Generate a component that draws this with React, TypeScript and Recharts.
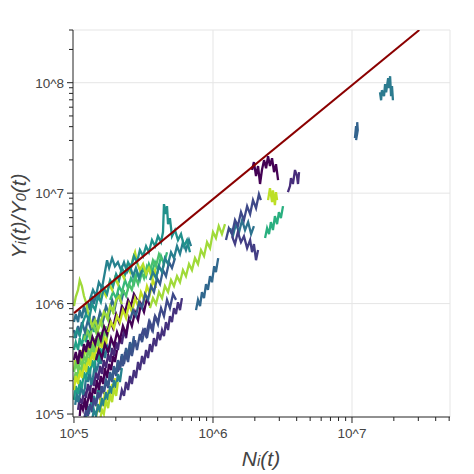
import { ComposedChart, Line, ReferenceLine, XAxis, YAxis } from "recharts";

// all walk values are in units of 1e5
const UNIT = 1e5;

const walkA = [[1.0, 9.49], [1.03, 11.5], [1.07, 13.3], [1.1, 16.3], [1.14, 14.4], [1.18, 11.7], [1.22, 10.3], [1.26, 8.38], [1.3, 7.39], [1.35, 6.26], [1.42, 7.09], [1.49, 5.76], [1.56, 6.8], [1.64, 8.38], [1.73, 7.39], [1.82, 9.49], [1.91, 8.38], [2.01, 10.8], [2.11, 11.7], [2.21, 9.9]];
const walkB = [[1.0, 4.87], [1.05, 5.76], [1.1, 5.08], [1.16, 6.8], [1.22, 8.04], [1.28, 7.09], [1.35, 9.9], [1.42, 8.73], [1.49, 11.7], [1.56, 10.3], [1.64, 13.8], [1.73, 12.2], [1.82, 16.3], [1.91, 14.4], [2.01, 18.5], [2.11, 16.3], [2.21, 21.0], [2.33, 18.5], [2.45, 23.7], [2.57, 21.0], [2.7, 26.9], [2.84, 23.7], [2.98, 30.5], [3.14, 26.9], [3.3, 33.1], [3.46, 29.2], [3.64, 37.6], [3.83, 33.1], [4.02, 40.8], [4.23, 36.0], [4.37, 44.4], [4.44, 79.5], [4.59, 64.6], [4.67, 76.3], [4.75, 52.4], [4.9, 59.4], [5.07, 40.8], [5.33, 46.3], [5.6, 37.6], [5.89, 42.6], [6.19, 33.1], [6.5, 37.6], [6.83, 29.2]];
const walkC = [[1.3, 10.8], [1.37, 13.3], [1.44, 11.7], [1.51, 15.6], [1.59, 13.8], [1.67, 19.3], [1.73, 24.7], [1.79, 21.0], [1.88, 25.8], [1.97, 21.8], [2.07, 23.7], [2.18, 20.1], [2.29, 23.7], [2.41, 19.3], [2.53, 21.8], [2.66, 17.7], [2.79, 21.0], [2.94, 17.0], [3.09, 20.1]];
const walkD = [[1.54, 10.8], [1.62, 13.3], [1.7, 11.7], [1.79, 15.0], [1.88, 13.3], [1.97, 17.0], [2.07, 15.0], [2.18, 19.3], [2.29, 17.0], [2.41, 21.8], [2.53, 19.3], [2.66, 25.8], [2.75, 29.2], [2.84, 23.7], [2.98, 20.1], [3.14, 22.8], [3.3, 18.5], [3.46, 21.0], [3.64, 17.0], [3.83, 20.1], [4.02, 15.6]];
const walkE = [[1.82, 10.8], [1.91, 12.7], [2.01, 11.2], [2.11, 14.4], [2.21, 12.7], [2.33, 16.3], [2.45, 13.8], [2.57, 17.0], [2.7, 15.0], [2.84, 19.3], [2.98, 16.3], [3.14, 21.0], [3.3, 17.7], [3.46, 22.8], [3.64, 19.3], [3.83, 23.7], [4.02, 20.1], [4.23, 26.9], [4.44, 22.8], [4.67, 29.2]];
const walkF = [[1.0, 3.08], [1.03, 3.64], [1.07, 2.84], [1.1, 3.8], [1.14, 3.21], [1.18, 4.3], [1.22, 3.64], [1.26, 4.67], [1.3, 3.96], [1.35, 5.08], [1.42, 4.3], [1.49, 5.52], [1.56, 4.67], [1.64, 6.26], [1.73, 5.3], [1.82, 7.09], [1.91, 6.0], [2.01, 8.04], [2.11, 6.8], [2.21, 9.49], [2.33, 8.38], [2.45, 10.8], [2.57, 9.49], [2.7, 12.2], [2.84, 10.8]];
const walkG = [[1.0, 5.76], [1.03, 4.87], [1.07, 6.26], [1.1, 5.3], [1.14, 6.8], [1.2, 5.52], [1.26, 7.09], [1.33, 5.76], [1.39, 7.71], [1.46, 6.26], [1.54, 8.38], [1.62, 7.09], [1.7, 9.49], [1.79, 8.04], [1.88, 10.8], [1.97, 9.11], [2.07, 12.2], [2.18, 10.3], [2.29, 13.3]];
const walkH = [[1.07, 1.09], [1.1, 1.4], [1.14, 1.23], [1.18, 1.65], [1.22, 1.4], [1.26, 1.87], [1.3, 1.58], [1.35, 2.12], [1.39, 1.79], [1.44, 2.4], [1.49, 2.03], [1.54, 2.72], [1.59, 2.3], [1.64, 3.08], [1.7, 2.61], [1.76, 3.49], [1.82, 2.96], [1.88, 3.96], [1.94, 3.35], [2.01, 4.48], [2.07, 3.8], [2.14, 5.08], [2.21, 4.3], [2.29, 5.76], [2.37, 4.87], [2.45, 6.53]];
const walkI = [[1.0, 1.65], [1.03, 2.21], [1.07, 1.87], [1.1, 2.5], [1.14, 2.12], [1.18, 2.84], [1.22, 2.4], [1.26, 3.21], [1.3, 2.72], [1.35, 3.64], [1.39, 3.08], [1.44, 4.12], [1.49, 3.49], [1.54, 4.67], [1.59, 3.96], [1.64, 5.08], [1.7, 4.3], [1.76, 5.76]];
const walkJ = [[1.0, 2.4], [1.03, 2.84], [1.07, 2.5], [1.1, 3.08], [1.14, 2.72], [1.18, 3.35], [1.22, 2.96], [1.26, 3.8], [1.3, 3.35], [1.35, 4.3], [1.39, 3.64], [1.44, 4.67], [1.49, 4.12], [1.54, 5.3], [1.59, 4.48], [1.64, 6.0], [1.73, 5.08], [1.82, 6.8]];
const walkK = [[1.0, 3.8], [1.03, 4.48], [1.07, 3.8], [1.1, 4.87], [1.14, 4.12], [1.18, 5.3], [1.22, 4.48], [1.26, 5.76], [1.3, 5.08], [1.35, 6.53], [1.39, 5.52], [1.44, 7.09]];
const walkL = [[1.18, 0.88], [1.22, 1.09], [1.26, 0.96], [1.3, 1.23], [1.35, 1.04], [1.39, 1.4], [1.44, 1.18], [1.49, 1.58], [1.54, 1.34], [1.59, 1.79], [1.64, 1.52], [1.7, 2.03], [1.76, 1.72], [1.82, 2.3], [1.88, 1.95], [1.94, 2.61], [2.01, 2.21], [2.07, 2.96], [2.14, 2.5], [2.21, 3.35], [2.29, 2.84], [2.37, 3.8], [2.45, 3.21], [2.53, 4.3], [2.61, 3.64], [2.7, 4.87]];
const walkM = [[1.35, 0.88], [1.39, 1.09], [1.44, 0.96], [1.49, 1.23], [1.54, 1.04], [1.59, 1.4], [1.64, 1.18], [1.7, 1.58], [1.76, 1.34], [1.82, 1.79], [1.88, 1.52], [1.94, 2.03], [2.01, 1.72], [2.07, 2.3], [2.14, 1.95], [2.21, 2.61]];
const walkN = [[1.54, 0.88], [1.59, 1.09], [1.64, 1.0], [1.7, 1.34], [1.76, 1.13], [1.82, 1.52], [1.88, 1.28], [1.94, 1.72], [2.01, 1.46], [2.07, 1.95]];
const walkO = [[2.14, 1.34], [2.21, 1.65], [2.29, 1.46], [2.37, 1.95], [2.45, 1.65], [2.53, 2.21], [2.61, 1.87], [2.7, 2.5], [2.79, 2.12], [2.89, 2.96], [2.98, 2.5], [3.09, 3.35], [3.19, 2.84], [3.3, 3.8], [3.41, 3.21], [3.52, 4.3], [3.64, 3.64], [3.76, 4.87], [3.89, 4.12], [4.02, 5.52], [4.16, 4.67], [4.3, 5.76], [4.44, 5.08], [4.59, 6.8], [4.75, 5.76], [4.9, 7.71], [5.07, 6.8], [5.24, 9.11], [5.42, 8.04], [5.6, 10.3], [5.79, 8.73], [5.98, 11.2]];
const walkQ = [[2.53, 7.09], [2.66, 8.73], [2.79, 7.71], [2.94, 10.3], [3.09, 9.11], [3.24, 12.2], [3.41, 10.8], [3.58, 14.4], [3.76, 12.7], [3.96, 17.0], [4.16, 15.0], [4.37, 20.1], [4.59, 17.7], [4.83, 23.7], [5.07, 21.0], [5.33, 25.8]];
const walkR = [[3.52, 16.3], [3.7, 19.3], [3.89, 17.0], [4.09, 21.8], [4.3, 19.3], [4.51, 25.8], [4.75, 22.8], [4.99, 29.2], [5.24, 25.8], [5.51, 33.1], [5.79, 28.1], [6.08, 36.0], [6.39, 30.5], [6.72, 37.6], [6.95, 33.1]];
const walkS = [[3.52, 9.11], [3.7, 11.2], [3.89, 9.9], [4.09, 12.7], [4.3, 11.2], [4.51, 14.4], [4.75, 12.7], [4.99, 16.3], [5.24, 14.4], [5.51, 17.7], [5.79, 15.6], [6.08, 20.1], [6.39, 17.7], [6.72, 22.8], [7.06, 20.1], [7.42, 25.8], [7.8, 22.8], [8.2, 30.5], [8.62, 26.9], [9.06, 36.0], [9.52, 31.8], [10.0, 44.4], [10.5, 39.2], [11.0, 50.3], [11.6, 42.6], [12.2, 52.4]];
const walkT = [[7.55, 8.73], [7.8, 10.8], [8.07, 9.49], [8.33, 12.7], [8.62, 11.2], [8.91, 15.0], [9.2, 13.3], [9.52, 17.7], [9.84, 15.6], [10.2, 21.8], [10.5, 19.3], [10.9, 25.8]];
const walkU1 = [[12.4, 37.6], [13.0, 48.2], [13.7, 42.6], [14.4, 57.0], [15.1, 50.3], [15.9, 67.3], [16.7, 57.0], [17.6, 76.3], [18.5, 64.6], [19.4, 86.4], [20.4, 73.2], [21.4, 97.9], [22.1, 86.4]];
const walkU2 = [[13.7, 40.8], [14.4, 34.6], [15.1, 44.4], [15.9, 36.0], [16.7, 40.8], [17.6, 31.8], [18.5, 37.6], [19.1, 29.2], [19.7, 34.6], [20.4, 24.7], [21.1, 30.5]];
const walkV = [[13.3, 48.2], [13.9, 40.8], [14.6, 52.4], [15.4, 44.4], [16.2, 57.0], [17.0, 46.3], [17.9, 54.7], [18.8, 42.6], [19.7, 50.3]];
const walkW = [[19.1, 162], [19.7, 191], [20.4, 143], [21.1, 176], [21.8, 121], [22.5, 162], [23.3, 199], [24.1, 168], [24.9, 216], [25.7, 176], [26.6, 207], [27.5, 155], [28.4, 183], [29.4, 131]];
const walkX = [[34.6, 102], [35.8, 116], [36.4, 137], [37.6, 121], [38.9, 162], [40.2, 143], [40.9, 121], [41.6, 155]];
const walkY = [[24.9, 86.4], [25.7, 111], [26.6, 82.9], [27.0, 106], [27.9, 77.9], [28.4, 102], [28.9, 86.4]];
const walkZ = [[23.7, 39.2], [24.5, 48.2], [25.3, 42.6], [26.1, 54.7], [27.0, 46.3], [27.9, 61.9], [28.9, 52.4], [29.8, 67.3], [30.8, 59.4], [31.9, 76.3]];
const walkP1 = [[105, 315], [107, 404], [109, 342], [109, 439], [110, 372], [107, 302]];
const walkP2 = [[159, 820], [162, 694], [164, 855], [170, 755], [173, 969], [176, 820], [182, 1099], [185, 892], [188, 1145], [191, 755], [194, 930], [197, 694]];
const walkAA = [[1.0, 1.34], [1.03, 1.79], [1.07, 1.52], [1.1, 2.03], [1.14, 1.72], [1.18, 2.4], [1.22, 2.03], [1.26, 2.72], [1.3, 2.3], [1.35, 3.08], [1.39, 2.61], [1.44, 3.49], [1.49, 2.96], [1.54, 3.96], [1.59, 3.35], [1.64, 4.48]];
const walkAB = [[1.44, 3.08], [1.51, 3.8], [1.59, 3.21], [1.67, 4.3], [1.76, 3.64], [1.85, 4.87], [1.94, 4.12], [2.04, 5.52], [2.14, 4.67], [2.25, 6.26], [2.37, 5.3], [2.49, 7.39], [2.61, 6.26], [2.75, 8.38], [2.89, 7.09], [3.03, 9.9], [3.19, 8.38], [3.35, 11.2], [3.52, 9.49]];
const walkAC = [[1.76, 5.52], [1.85, 6.8], [1.94, 6.0], [2.04, 7.71], [2.14, 6.8], [2.25, 8.73], [2.37, 7.39], [2.49, 9.9], [2.61, 8.38], [2.75, 11.2], [2.89, 9.49], [3.03, 12.7], [3.19, 10.8], [3.35, 14.4], [3.52, 12.2], [3.7, 16.3], [3.89, 13.8]];
const walkAD = [[2.14, 10.8], [2.25, 13.3], [2.37, 11.7], [2.49, 15.0], [2.61, 13.3], [2.75, 17.7], [2.89, 15.0], [3.03, 20.1], [3.19, 17.0], [3.35, 21.8], [3.52, 19.3], [3.7, 24.7], [3.89, 21.8], [4.09, 28.1], [4.3, 24.7]];
const walkAE = [[2.98, 4.67], [3.14, 5.76], [3.3, 5.08], [3.46, 6.8], [3.64, 5.76], [3.83, 7.71], [4.02, 6.8], [4.23, 9.11], [4.44, 7.71], [4.67, 10.8], [4.9, 9.11], [5.16, 12.2], [5.42, 10.8]];
const walkAG = [[1.64, 1.65], [1.7, 2.03], [1.76, 1.79], [1.82, 2.4], [1.88, 2.03], [1.94, 2.72], [2.01, 2.3], [2.07, 3.08], [2.14, 2.61], [2.21, 3.49], [2.29, 2.96], [2.37, 3.96], [2.45, 3.35], [2.53, 4.48], [2.61, 3.8], [2.7, 5.08]];
const walkAH = [[1.18, 4.67], [1.24, 5.76], [1.3, 4.87], [1.37, 6.53], [1.44, 5.52], [1.51, 7.39], [1.59, 6.26], [1.67, 8.38], [1.76, 7.09], [1.85, 9.49], [1.94, 8.04]];
const walkN1 = [[1.02, 1.21], [1.05, 1.58], [1.07, 1.28], [1.1, 1.46], [1.12, 1.87], [1.16, 1.49], [1.2, 1.72], [1.22, 2.21], [1.26, 1.95], [1.3, 2.5], [1.33, 1.83], [1.37, 2.12], [1.42, 2.96], [1.44, 2.4], [1.49, 2.72], [1.54, 3.49], [1.56, 2.84], [1.62, 3.8], [1.67, 3.21], [1.73, 4.12], [1.79, 3.64], [1.85, 4.87]];
const walkN2 = [[1.1, 0.96], [1.12, 1.23], [1.16, 1.09], [1.2, 1.4], [1.22, 1.09], [1.26, 1.34], [1.3, 1.58], [1.33, 1.28], [1.37, 1.72], [1.42, 1.52], [1.46, 2.03], [1.51, 1.65], [1.56, 2.21], [1.62, 1.87], [1.67, 2.61], [1.73, 2.12], [1.79, 2.84], [1.85, 2.5], [1.91, 3.35], [1.97, 2.96], [2.04, 3.8]];
const walkN3 = [[1.44, 0.92], [1.49, 1.23], [1.51, 1.04], [1.56, 1.4], [1.62, 1.18], [1.67, 1.58], [1.7, 1.28], [1.76, 1.65], [1.82, 1.46], [1.88, 1.87], [1.94, 1.58], [1.97, 2.12]];
const walkN4 = [[1.22, 0.92], [1.26, 1.18], [1.28, 1.0], [1.33, 1.28], [1.37, 1.09], [1.39, 1.46], [1.44, 1.23], [1.49, 1.65], [1.51, 1.4], [1.56, 1.79]];
const walkN5 = [[2.07, 2.4], [2.18, 3.08], [2.25, 2.72], [2.33, 3.64], [2.45, 2.96], [2.53, 3.96], [2.61, 3.35], [2.75, 4.67], [2.84, 3.8], [2.98, 5.3], [3.09, 4.48], [3.24, 6.0], [3.35, 4.87], [3.52, 6.8], [3.7, 5.76], [3.83, 7.71], [4.02, 6.53], [4.16, 8.38]];
const walkN6 = [[1.0, 2.03], [1.03, 2.4], [1.05, 2.03], [1.09, 2.72], [1.12, 2.3], [1.16, 3.08], [1.2, 2.61], [1.24, 3.35], [1.28, 2.96], [1.33, 3.96], [1.37, 3.21], [1.42, 3.8], [1.46, 4.87], [1.51, 4.12], [1.56, 5.52], [1.64, 4.67], [1.7, 6.26]];
const walkN7 = [[1.0, 2.5], [1.02, 3.08], [1.05, 2.72], [1.09, 3.49], [1.12, 2.96], [1.14, 3.8], [1.18, 3.21], [1.22, 4.12], [1.26, 3.49], [1.3, 4.48], [1.35, 3.8], [1.39, 4.87]];
const walkN8 = [[1.0, 6.8], [1.03, 8.04], [1.07, 6.8], [1.1, 8.73], [1.14, 7.39], [1.18, 9.49], [1.22, 8.04], [1.26, 10.3], [1.3, 8.73], [1.35, 11.7], [1.39, 9.9], [1.46, 12.7], [1.51, 10.8], [1.59, 14.4]];

// fitted power law, endpoints in real units
const fitX = [1e5, 3.05e7];
const fitY = [8.2e5, 3.0e8];

const X_TICKS = [1e5, 2e5, 3e5, 4e5, 5e5, 6e5, 7e5, 8e5, 9e5, 1e6, 2e6, 3e6, 4e6, 5e6, 6e6, 7e6, 8e6, 9e6, 1e7, 2e7, 3e7, 4e7, 5e7];
const Y_TICKS = [1e5, 2e5, 3e5, 4e5, 5e5, 6e5, 7e5, 8e5, 9e5, 1e6, 2e6, 3e6, 4e6, 5e6, 6e6, 7e6, 8e6, 9e6, 1e7, 2e7, 3e7, 4e7, 5e7, 6e7, 7e7, 8e7, 9e7, 1e8, 2e8, 3e8];
const MAJOR = [1e5, 1e6, 1e7, 1e8];
const MAJOR_LABELS = ["10^5", "10^6", "10^7", "10^8"];

const X_DOMAIN = [9.84e4, 5.07e7];
const Y_DOMAIN = [9.4e4, 3.0e8];

const series = [
  { pts: walkN4, color: "#21918c" },
  { pts: walkH, color: "#482878" },
  { pts: walkN6, color: "#6ece58" },
  { pts: walkL, color: "#3e4989" },
  { pts: walkN3, color: "#d2e21b" },
  { pts: walkM, color: "#26828e" },
  { pts: walkN1, color: "#2a788e" },
  { pts: walkN, color: "#b5de2b" },
  { pts: walkAA, color: "#1f9e89" },
  { pts: walkN7, color: "#b5de2b" },
  { pts: walkI, color: "#c8e020" },
  { pts: walkN2, color: "#440154" },
  { pts: walkAG, color: "#365c8d" },
  { pts: walkJ, color: "#6ece58" },
  { pts: walkK, color: "#1fa187" },
  { pts: walkN8, color: "#2c728e" },
  { pts: walkF, color: "#440154" },
  { pts: walkAH, color: "#7ad151" },
  { pts: walkG, color: "#31688e" },
  { pts: walkN5, color: "#3b528b" },
  { pts: walkAB, color: "#440154" },
  { pts: walkAC, color: "#c2df23" },
  { pts: walkO, color: "#46327e" },
  { pts: walkAE, color: "#3e4989" },
  { pts: walkE, color: "#35b779" },
  { pts: walkAD, color: "#4ac16d" },
  { pts: walkD, color: "#b5de2b" },
  { pts: walkC, color: "#26828e" },
  { pts: walkA, color: "#a0da39" },
  { pts: walkQ, color: "#365c8d" },
  { pts: walkR, color: "#277f8e" },
  { pts: walkB, color: "#21918c" },
  { pts: walkS, color: "#a0da39" },
  { pts: walkT, color: "#31688e" },
  { pts: walkV, color: "#2c728e" },
  { pts: walkU2, color: "#433e85" },
  { pts: walkU1, color: "#3e4989" },
  { pts: walkZ, color: "#29af7f" },
  { pts: walkY, color: "#bddf26" },
  { pts: walkW, color: "#440154" },
  { pts: walkX, color: "#472d7b" },
  { pts: walkP1, color: "#33638d" },
  { pts: walkP2, color: "#2c7b8f" },
].map((s) => ({ color: s.color, data: s.pts.map(([x, y]) => ({ x: x * UNIT, y: y * UNIT })) }));

const fitData = fitX.map((x, i) => ({ x, y: fitY[i] }));

const FONT = "'Liberation Sans', Arial, Helvetica, sans-serif";
const AXIS = "#222";

function XTick({ x, y, payload }: any) {
  const i = MAJOR.indexOf(payload.value);
  return (
    <g>
      <line x1={x} x2={x} y1={y} y2={y + (i >= 0 ? 6 : 4)} stroke={AXIS} strokeWidth={1} />
      {i >= 0 && (
        <text x={x} y={y + 21} textAnchor="middle" fontSize={13.5} fontFamily={FONT} fill="#444">
          {MAJOR_LABELS[i]}
        </text>
      )}
    </g>
  );
}

function YTick({ x, y, payload }: any) {
  const i = MAJOR.indexOf(payload.value);
  return (
    <g>
      <line x1={x} x2={x - (i >= 0 ? 6 : 4)} y1={y} y2={y} stroke={AXIS} strokeWidth={1} />
      {i >= 0 && (
        <text x={x - 9} y={y + 5} textAnchor="end" fontSize={13.5} fontFamily={FONT} fill="#444">
          {MAJOR_LABELS[i]}
        </text>
      )}
    </g>
  );
}

export default function App() {
  return (
    <div style={{ position: "absolute", left: 0, top: 0, width: 474, height: 474, background: "#fff" }}>
      <ComposedChart width={474} height={474} margin={{ top: 30, right: 24, bottom: 17, left: 13 }}>
        <XAxis
          dataKey="x"
          type="number"
          scale="log"
          domain={X_DOMAIN}
          allowDataOverflow
          ticks={X_TICKS}
          interval={0}
          tickSize={0}
          tickMargin={0}
          tickLine={false}
          height={40}
          axisLine={{ stroke: AXIS }}
          tick={(p: any) => <XTick {...p} />}
        />
        <YAxis
          dataKey="y"
          type="number"
          scale="log"
          domain={Y_DOMAIN}
          allowDataOverflow
          ticks={Y_TICKS}
          interval={0}
          tickSize={0}
          tickMargin={0}
          tickLine={false}
          width={60}
          axisLine={{ stroke: AXIS }}
          tick={(p: any) => <YTick {...p} />}
        />
        {MAJOR.slice(1, 3).map((v) => (
          <ReferenceLine key={"gx" + v} x={v} stroke="#e5e5e5" />
        ))}
        {MAJOR.slice(1).map((v) => (
          <ReferenceLine key={"gy" + v} y={v} stroke="#e5e5e5" />
        ))}
        <ReferenceLine x={X_DOMAIN[1]} stroke="#e5e5e5" />
        <ReferenceLine y={Y_DOMAIN[1]} stroke="#e5e5e5" />
        {series.map((s, i) => (
          <Line
            key={i}
            data={s.data}
            dataKey="y"
            stroke={s.color}
            strokeWidth={2.3}
            dot={false}
            activeDot={false}
            isAnimationActive={false}
            strokeLinejoin="miter"
          />
        ))}
        <Line data={fitData} dataKey="y" stroke="#8b0000" strokeWidth={2} dot={false} isAnimationActive={false} />
      </ComposedChart>
      <div
        style={{
          position: "absolute",
          left: 261,
          top: 459,
          transform: "translate(-50%, -50%)",
          fontFamily: FONT,
          fontStyle: "italic",
          fontSize: 21,
          color: "#444",
          whiteSpace: "nowrap",
        }}
      >
        N<span style={{ fontSize: 15 }}>i</span>(t)
      </div>
      <div
        style={{
          position: "absolute",
          left: 19,
          top: 216,
          transform: "translate(-50%, -50%) rotate(-90deg)",
          fontFamily: FONT,
          fontStyle: "italic",
          fontSize: 21,
          color: "#444",
          whiteSpace: "nowrap",
        }}
      >
        Y<span style={{ fontSize: 15 }}>i</span>(t)/Y<span style={{ fontSize: 15 }}>0</span>(t)
      </div>
    </div>
  );
}
